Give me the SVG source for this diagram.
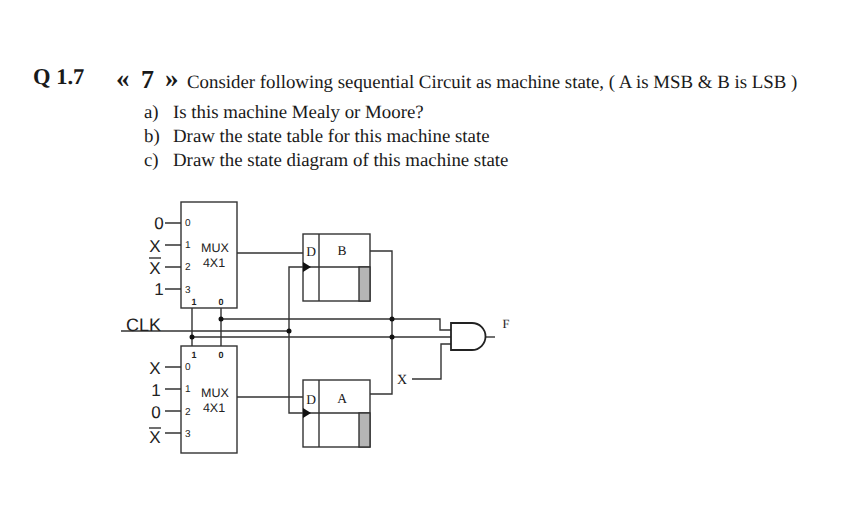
<svg xmlns="http://www.w3.org/2000/svg" width="859" height="511" viewBox="0 0 859 511">
<style>
.t{font-family:"Liberation Serif","Times New Roman",serif;fill:#1a1a1a;text-rendering:geometricPrecision}
.q{font-size:18.850px}
.s{font-family:"Liberation Sans",Arial,sans-serif;fill:#222;text-rendering:geometricPrecision}
.in{font-size:17px;text-anchor:middle}
.pin{font-size:10px}
.sel{font-size:9px;font-weight:bold;text-anchor:middle}
.mx{font-size:12.500px;text-anchor:middle}
.w{fill:none;stroke:#333;stroke-width:1.4}
.b{fill:#fff;stroke:#333;stroke-width:1.4}
.ff{font-size:13.500px;text-anchor:middle}
</style>
<g id="question">
<text class="t" x="33" y="84" font-size="22.500" font-weight="bold">Q 1.7</text>
<text class="t" x="116" y="87" font-size="27" font-weight="bold">«</text>
<text class="t" x="141" y="88" font-size="26" font-weight="bold">7</text>
<text class="t" x="165" y="87" font-size="27" font-weight="bold">»</text>
<text class="t q" x="187" y="88">Consider following sequential Circuit as machine state, ( A is MSB &amp; B is LSB )</text>
<text class="t q" x="144" y="118">a)</text><text class="t q" x="173" y="118">Is this machine Mealy or Moore?</text>
<text class="t q" x="144" y="142">b)</text><text class="t q" x="173" y="142">Draw the state table for this machine state</text>
<text class="t q" x="144" y="166">c)</text><text class="t q" x="173" y="166">Draw the state diagram of this machine state</text>
</g>
<g id="connectors">
<path class="w" d="M165 223H181M165 245H181M165 267H181M165 289H181M165 367H181M165 389H181M165 411H181M165 433H181"/>
<path class="w" d="M192 308V346M221 308V346"/>
<path class="w" d="M221 319H440V330H451"/>
<path class="w" d="M121 331H289"/>
<path class="w" d="M192 337H451"/>
<path class="w" d="M412 379H441V344H451"/>
<path class="w" d="M486 337H495"/>
<path class="w" d="M237 253H303M237 397H303"/>
<path class="w" d="M370 251H392V394H370"/>
<path class="w" d="M303 267H289V413H303"/>
<g fill="#111"><circle cx="221" cy="319" r="2.500"/><circle cx="192" cy="337" r="2.500"/><circle cx="289" cy="331" r="2.500"/><circle cx="392" cy="319" r="2.500"/><circle cx="392" cy="337" r="2.500"/></g>
</g>
<g id="mux-top">
<rect class="b" x="181" y="202" width="56" height="106"/>
<text class="s mx" x="215" y="252">MUX</text><text class="s mx" x="214" y="267">4X1</text>
<text class="s pin" x="185" y="226">0</text><text class="s pin" x="185" y="248">1</text><text class="s pin" x="185" y="270">2</text><text class="s pin" x="185" y="293">3</text>
<text class="s sel" x="194" y="305">1</text><text class="s sel" x="221" y="305">0</text>
</g>
<g id="mux-bottom">
<rect class="b" x="181" y="346" width="56" height="107"/>
<text class="s mx" x="215" y="397">MUX</text><text class="s mx" x="214" y="412">4X1</text>
<text class="s pin" x="185" y="370">0</text><text class="s pin" x="185" y="392">1</text><text class="s pin" x="185" y="415">2</text><text class="s pin" x="185" y="437">3</text>
<text class="s sel" x="194" y="358">1</text><text class="s sel" x="221" y="358">0</text>
</g>
<g id="inputs">
<text class="s in" x="159" y="229">0</text><text class="s in" x="155" y="252">X</text><text class="s in" x="155" y="274">X</text><path class="w" d="M149 258H161"/><text class="s in" x="159" y="295">1</text>
<text class="s in" x="155" y="374">X</text><text class="s in" x="156" y="396">1</text><text class="s in" x="156" y="418">0</text><text class="s in" x="155" y="443">X</text><path class="w" d="M149 428H161"/>
<text class="s" x="126" y="331" font-size="18">CLK</text>
</g>
<g id="ff-b">
<rect class="b" x="303" y="234" width="67" height="67"/>
<path class="w" d="M303 267H370M319 234V301"/>
<rect x="359" y="267" width="11" height="34" fill="#b5b5b5" stroke="#333" stroke-width="1.400"/>
<path d="M303 262L311 267L303 272Z" fill="#111"/>
<text class="t ff" x="311" y="256">D</text><text class="t ff" x="342" y="255">B</text>
</g>
<g id="ff-a">
<rect class="b" x="303" y="380" width="67" height="67"/>
<path class="w" d="M303 413H370M319 380V447"/>
<rect x="359" y="413" width="11" height="34" fill="#b5b5b5" stroke="#333" stroke-width="1.400"/>
<path d="M303 408L311 413L303 418Z" fill="#111"/>
<text class="t ff" x="311" y="404">D</text><text class="t ff" x="342" y="403">A</text>
</g>
<g id="and-gate">
<path d="M451 323H472A13.500 13.500 0 0 1 472 350H451Z" fill="#fff" stroke="#222" stroke-width="1.800"/>
<text class="t" x="506" y="328" font-size="12.500" text-anchor="middle">F</text>
</g>
<g id="x-label"><text class="t" x="402" y="384" font-size="14" text-anchor="middle">X</text></g>
</svg>
